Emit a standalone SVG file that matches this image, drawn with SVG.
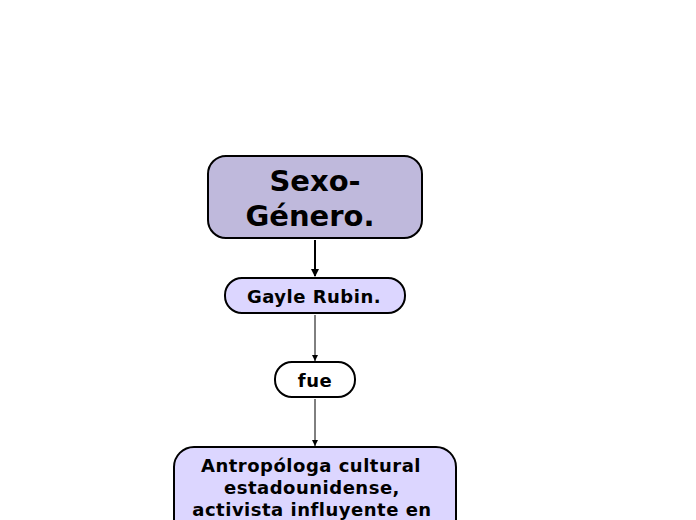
<svg xmlns="http://www.w3.org/2000/svg" width="696" height="520" viewBox="0 0 696 520">
<style>
.t{font-family:"DejaVu Sans",Verdana,sans-serif;font-weight:bold;fill:#000;text-anchor:middle}
.s{font-size:18px;letter-spacing:0.5px}
.n{stroke:#000;stroke-width:2}
</style>
<defs>
<marker id="a" markerWidth="8" markerHeight="8" refX="7" refY="4" orient="auto" markerUnits="userSpaceOnUse">
<path d="M0,0 L8,4 L0,8 Z" fill="#000"/>
</marker>
<marker id="b" markerWidth="6" markerHeight="6" refX="6" refY="3" orient="auto" markerUnits="userSpaceOnUse">
<path d="M0,0 L6,3 L0,6 Z" fill="#000"/>
</marker>
</defs>
<rect width="696" height="520" fill="#fff"/>
<g id="connectors">
<line x1="315" y1="240" x2="315" y2="276" stroke="#000" stroke-width="2" marker-end="url(#a)"/>
<line x1="315" y1="315" x2="315" y2="361" stroke="#000" stroke-width="1" marker-end="url(#b)"/>
<line x1="315" y1="399" x2="315" y2="446" stroke="#000" stroke-width="1" marker-end="url(#b)"/>
</g>
<g id="sexo-genero">
<rect class="n" x="208" y="156" width="214" height="82" rx="18" fill="#bfb9dc"/>
<text class="t" x="315" y="191" font-size="29">Sexo-</text>
<text class="t" x="310" y="226" font-size="29">Género.</text>
</g>
<g id="gayle-rubin">
<rect class="n" x="225" y="278" width="180" height="35" rx="17" fill="#dcd6ff"/>
<text class="t s" x="314" y="303">Gayle Rubin.</text>
</g>
<g id="fue">
<rect class="n" x="275" y="362" width="80" height="35" rx="17" fill="#fff"/>
<text class="t s" x="315" y="387">fue</text>
</g>
<g id="antropologa">
<rect class="n" x="174" y="447" width="282" height="100" rx="20" fill="#dcd6ff"/>
<text class="t s" x="311" y="472">Antropóloga cultural</text>
<text class="t s" x="312" y="494">estadounidense,</text>
<text class="t s" x="312" y="516">activista influyente en</text>
</g>
</svg>
